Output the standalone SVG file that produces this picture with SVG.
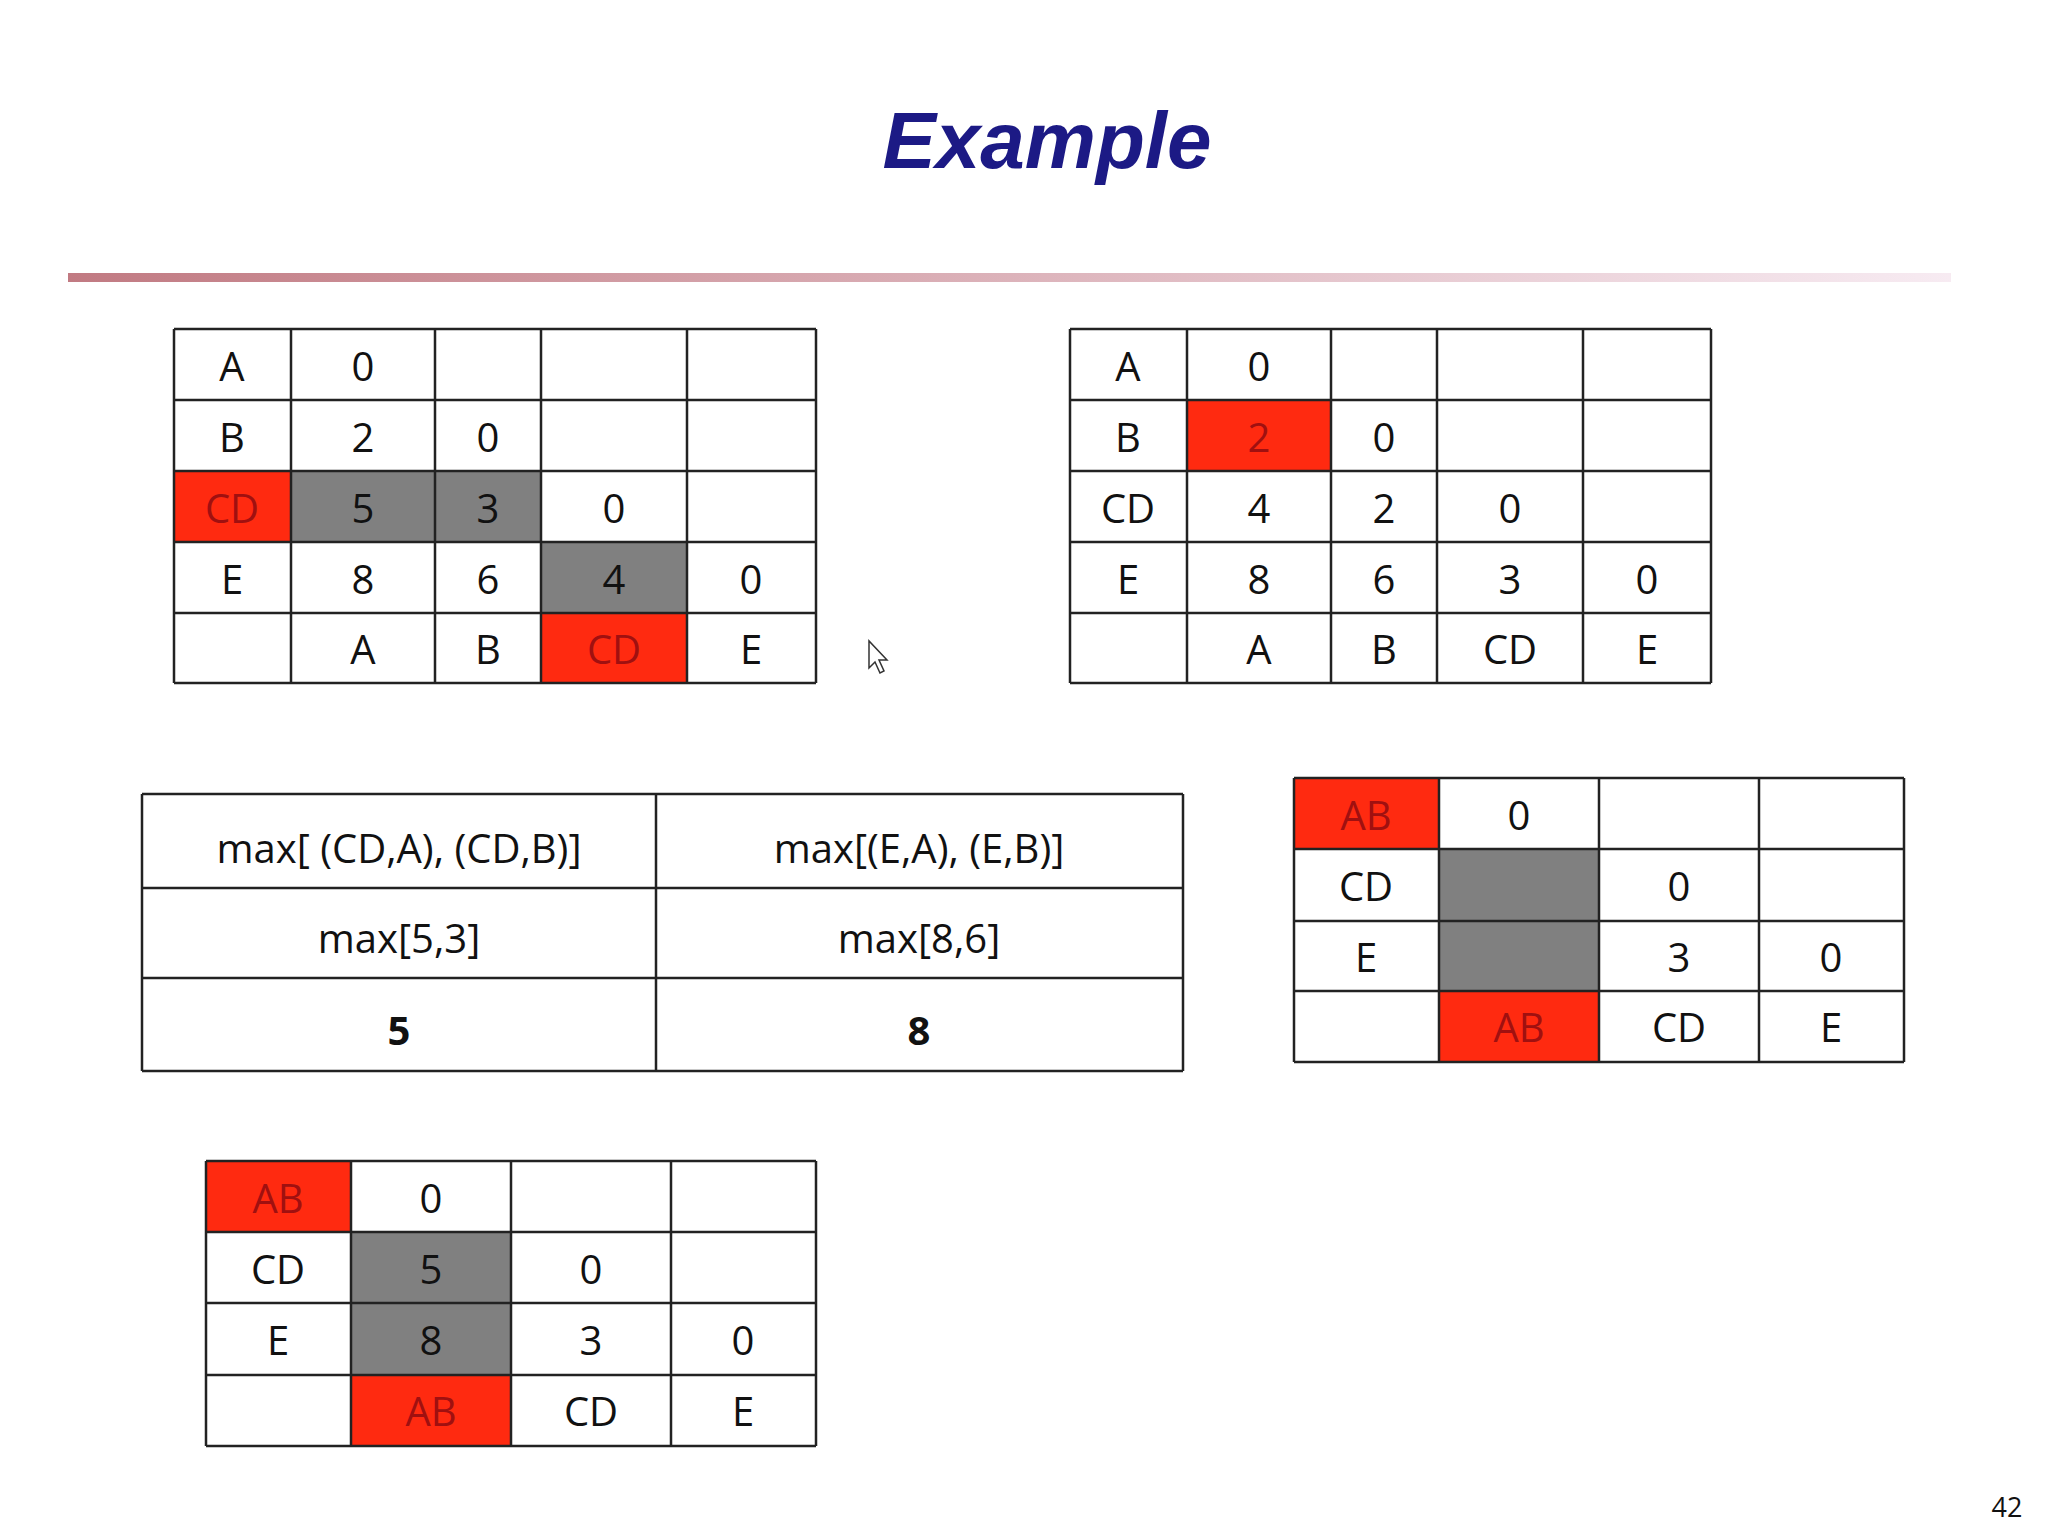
<svg xmlns="http://www.w3.org/2000/svg" width="2048" height="1536" viewBox="0 0 2048 1536">
<defs>
<linearGradient id="g" x1="0" x2="1"><stop offset="0" stop-color="#c17a82"/><stop offset="1" stop-color="#f7ebf2"/></linearGradient>
<style>
text{font-family:"Open Sans","Liberation Sans",sans-serif;font-size:40px;fill:#111;text-anchor:middle;dominant-baseline:central}
.r{fill:#ff2a10}.k{fill:#808080}
.rt{fill:#a01010}
.l{stroke:#222;stroke-width:2.5;fill:none}
</style>
</defs>
<rect width="2048" height="1536" fill="#fff"/>
<text x="1047" y="140" style="font-family:'Liberation Sans',sans-serif;font-size:80px;font-weight:bold;font-style:italic;fill:#1c1a85">Example</text>
<rect x="68" y="273" width="1883" height="9" fill="url(#g)"/>
<text x="2007" y="1506" style="font-size:27px">42</text>

<g id="t1">
<rect class="r" x="174" y="471" width="117" height="71"/><rect class="k" x="291" y="471" width="144" height="71"/><rect class="k" x="435" y="471" width="106" height="71"/>
<rect class="k" x="541" y="542" width="146" height="71"/><rect class="r" x="541" y="613" width="146" height="70"/>
<path class="l" d="M174 329H816M174 400H816M174 471H816M174 542H816M174 613H816M174 683H816M174 329V683M291 329V683M435 329V683M541 329V683M687 329V683M816 329V683"/>
<text x="232" y="365">A</text><text x="363" y="365">0</text>
<text x="232" y="436">B</text><text x="363" y="436">2</text><text x="488" y="436">0</text>
<text x="232" y="507" class="rt">CD</text><text x="363" y="507">5</text><text x="488" y="507">3</text><text x="614" y="507">0</text>
<text x="232" y="578">E</text><text x="363" y="578">8</text><text x="488" y="578">6</text><text x="614" y="578">4</text><text x="751" y="578">0</text>
<text x="363" y="648">A</text><text x="488" y="648">B</text><text x="614" y="648" class="rt">CD</text><text x="751" y="648">E</text>
</g>

<polygon points="869,641 869,668 875,662 880,673 884,671 879,660 887,660" fill="#fff" stroke="#333" stroke-width="1.5"/>

<g id="t2">
<rect class="r" x="1187" y="400" width="144" height="71"/>
<path class="l" d="M1070 329H1711M1070 400H1711M1070 471H1711M1070 542H1711M1070 613H1711M1070 683H1711M1070 329V683M1187 329V683M1331 329V683M1437 329V683M1583 329V683M1711 329V683"/>
<text x="1128" y="365">A</text><text x="1259" y="365">0</text>
<text x="1128" y="436">B</text><text x="1259" y="436" class="rt">2</text><text x="1384" y="436">0</text>
<text x="1128" y="507">CD</text><text x="1259" y="507">4</text><text x="1384" y="507">2</text><text x="1510" y="507">0</text>
<text x="1128" y="578">E</text><text x="1259" y="578">8</text><text x="1384" y="578">6</text><text x="1510" y="578">3</text><text x="1647" y="578">0</text>
<text x="1259" y="648">A</text><text x="1384" y="648">B</text><text x="1510" y="648">CD</text><text x="1647" y="648">E</text>
</g>

<g id="t3">
<path class="l" d="M142 794H1183M142 888H1183M142 978H1183M142 1071H1183M142 794V1071M656 794V1071M1183 794V1071"/>
<text x="399" y="847">max[ (CD,A), (CD,B)]</text><text x="919" y="847">max[(E,A), (E,B)]</text>
<text x="399" y="937">max[5,3]</text><text x="919" y="937">max[8,6]</text>
<text x="399" y="1029" font-weight="bold">5</text><text x="919" y="1029" font-weight="bold">8</text>
</g>

<g id="t4">
<rect class="r" x="1294" y="778" width="145" height="71"/><rect class="k" x="1439" y="849" width="160" height="142"/><rect class="r" x="1439" y="991" width="160" height="71"/>
<path class="l" d="M1294 778H1904M1294 849H1904M1294 921H1904M1294 991H1904M1294 1062H1904M1294 778V1062M1439 778V1062M1599 778V1062M1759 778V1062M1904 778V1062"/>
<text x="1366" y="814" class="rt">AB</text><text x="1519" y="814">0</text>
<text x="1366" y="885">CD</text><text x="1679" y="885">0</text>
<text x="1366" y="956">E</text><text x="1679" y="956">3</text><text x="1831" y="956">0</text>
<text x="1519" y="1026" class="rt">AB</text><text x="1679" y="1026">CD</text><text x="1831" y="1026">E</text>
</g>

<g id="t5">
<rect class="r" x="206" y="1161" width="145" height="71"/><rect class="k" x="351" y="1232" width="160" height="143"/><rect class="r" x="351" y="1375" width="160" height="71"/>
<path class="l" d="M206 1161H816M206 1232H816M206 1303H816M206 1375H816M206 1446H816M206 1161V1446M351 1161V1446M511 1161V1446M671 1161V1446M816 1161V1446"/>
<text x="278" y="1197" class="rt">AB</text><text x="431" y="1197">0</text>
<text x="278" y="1268">CD</text><text x="431" y="1268">5</text><text x="591" y="1268">0</text>
<text x="278" y="1339">E</text><text x="431" y="1339">8</text><text x="591" y="1339">3</text><text x="743" y="1339">0</text>
<text x="431" y="1410" class="rt">AB</text><text x="591" y="1410">CD</text><text x="743" y="1410">E</text>
</g>
</svg>
